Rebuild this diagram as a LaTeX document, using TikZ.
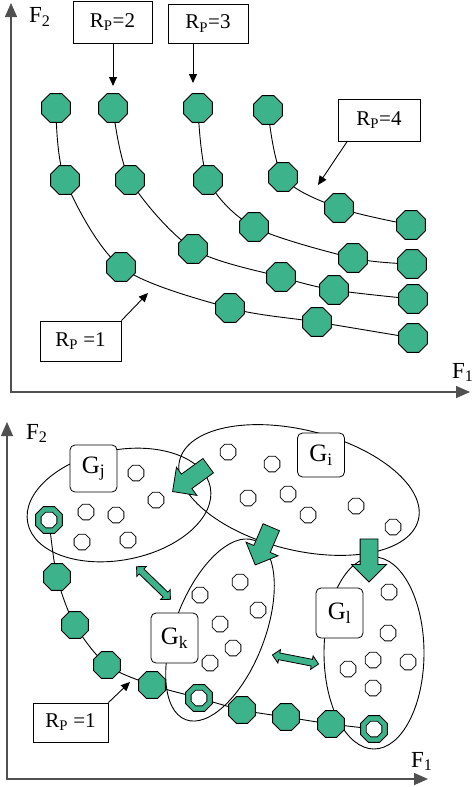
\documentclass[tikz,border=0pt]{standalone}
\usepackage{fontspec}
\setmainfont{Liberation Serif}
\usetikzlibrary{shapes.geometric, shapes.arrows, arrows.meta, backgrounds}
\definecolor{octgreen}{RGB}{60, 179, 139}
\definecolor{axisgray}{RGB}{80, 80, 80}

\tikzset{
  octnode/.style={regular polygon, regular polygon sides=8, draw=black, fill=octgreen, line width=0.9pt, minimum size=31pt, inner sep=0pt},
  holenode/.style={regular polygon, regular polygon sides=8, draw=black, fill=white, line width=0.8pt, minimum size=17pt, inner sep=0pt},
  rpbox/.style={draw, line width=0.9pt, fill=white, inner sep=0pt, font=\fontsize{21}{24}\selectfont},
  gbox/.style={draw, line width=0.8pt, fill=white, rounded corners=5pt, minimum width=47pt, minimum height=47pt, inner sep=0pt, font=\fontsize{25}{29}\selectfont},
  axislabel/.style={anchor=base west, inner sep=0pt, font=\fontsize{23}{27}\selectfont},
  axis/.style={draw=axisgray, line width=1.4pt, line join=miter, {Triangle[length=14pt,width=12pt]}-{Triangle[length=14pt,width=12pt]}},
  pointer/.style={line width=0.9pt, -{Triangle[length=9pt,width=8pt]}},
  front/.style={line width=0.9pt},
  group/.style={ellipse, draw, line width=0.9pt, inner sep=0pt},
  blockarrow/.style={single arrow, draw, fill=octgreen, line width=0.8pt, inner xsep=0pt, inner ysep=8.5pt, single arrow head extend=8.5pt},
  swaparrow/.style={double arrow, draw, fill=octgreen, line width=0.8pt, minimum height=47pt, inner xsep=0pt, inner ysep=3pt, double arrow head extend=3.5pt}
}

\begin{document}
\begin{tikzpicture}[x=1pt, y=-1pt]
  \useasboundingbox (0,0) rectangle (474,787);

  % Top panel: axes
  \coordinate (o1) at (11,392);
  \coordinate (y1) at (11,3);
  \coordinate (x1) at (470,392);
  \draw[axis] (y1) -- (o1) -- (x1);
  \node[axislabel] (f2top) at (29,23) {F\textsubscript{2}};
  \node[axislabel] (f1top) at (452,378) {F\textsubscript{1}};

  % Top panel: fronts
  \foreach \n/\x/\y in {a1/56/108, a2/65/180, a3/121/267, a4/230/308, a5/317/322, a6/413/338,
                        b1/113/108, b2/130/180, b3/193/249, b4/281/277, b5/334/290, b6/413/299,
                        c1/198/108, c2/208/180, c3/254/227, c4/353/258, c5/412/264,
                        d1/268/110, d2/283/177, d3/339/208, d4/411/225}
    \node[octnode] (\n) at (\x,\y) {};

  \begin{pgfonlayer}{background}
    \draw[front] plot[smooth] coordinates {(a1) (a2) (a3) (a4) (a5) (a6)};
    \draw[front] plot[smooth] coordinates {(b1) (b2) (b3) (b4) (b5) (b6)};
    \draw[front] plot[smooth] coordinates {(c1) (c2) (c3) (c4) (c5)};
    \draw[front] plot[smooth] coordinates {(d1) (d2) (d3) (d4)};
  \end{pgfonlayer}

  % Top panel: front labels
  \node[rpbox, minimum width=79pt, minimum height=42pt] (rp2) at (112.5,22) {R\textsubscript{P}=2};
  \node[rpbox, minimum width=80pt, minimum height=39pt] (rp3) at (208,23.5) {R\textsubscript{P}=3};
  \node[rpbox, minimum width=82pt, minimum height=42pt] (rp4) at (379,120) {R\textsubscript{P}=4};
  \node[rpbox, minimum width=81pt, minimum height=40pt] (rp1) at (80.5,341) {R\textsubscript{P} =1};
  \coordinate (rp2tip) at (113,86);
  \coordinate (rp3tip) at (193,83);
  \coordinate (rp4tip) at (318,185);
  \coordinate (rp1tip) at (148,293);
  \draw[pointer] (rp2tip |- rp2.south) -- (rp2tip);
  \draw[pointer] (rp3tip |- rp3.south) -- (rp3tip);
  \draw[pointer] (rp4.214) -- (rp4tip);
  \draw[pointer] (rp1.north east) -- (rp1tip);

  % Bottom panel: axes
  \coordinate (o2) at (7,779);
  \coordinate (y2) at (7,422);
  \coordinate (x2) at (428,779);
  \draw[axis] (y2) -- (o2) -- (x2);
  \node[axislabel] (f2bot) at (26,439) {F\textsubscript{2}};
  \node[axislabel] (f1bot) at (411,767) {F\textsubscript{1}};

  % Bottom panel: groups
  \node[group, minimum width=186pt, minimum height=110pt, rotate=11] (gj) at (119,505) {};
  \node[group, minimum width=246pt, minimum height=120pt, rotate=-14] (gi) at (299,490) {};
  \node[group, minimum width=192pt, minimum height=90pt, rotate=69] (gk) at (220,630) {};
  \node[group, minimum width=100pt, minimum height=192pt] (gl) at (374,653) {};

  \foreach \n/\x/\y in {j1/136/473, j2/156/500, j3/86/512, j4/116/515, j5/82/542, j6/128/540,
                        i1/228/452, i2/272/464, i3/248/498, i4/288/494, i5/308/515, i6/356/506, i7/393/527,
                        k1/240/582, k2/200/595, k3/258/610, k4/220/624, k5/233/648, k6/210/663,
                        l1/389/592, l2/388/633, l3/373/660, l4/408/662, l5/348/669, l6/373/688}
    \node[holenode] (\n) at (\x,\y) {};

  % Bottom panel: first front
  \foreach \n/\x/\y in {h1/49/520, h2/57/577, h3/75/625, h4/107/665, h5/152/685,
                        h6/199/698, h7/242/710, h8/286/717, h9/331/724, h10/374/729}
    \node[octnode, minimum size=29pt] (\n) at (\x,\y) {};
  \foreach \n in {h1, h6, h10}
    \node[holenode] (\n in) at (\n) {};

  \begin{pgfonlayer}{background}
    \draw[front] plot[smooth] coordinates {(h1) (h2) (h3) (h4) (h5) (h6) (h7) (h8) (h9) (h10)};
  \end{pgfonlayer}

  \node[gbox] (lj) at (93.5,468.5) {G\textsubscript{j}};
  \node[gbox, minimum height=44pt] (li) at (321,455) {G\textsubscript{i}};
  \node[gbox, minimum height=50pt] (lk) at (174.5,638) {G\textsubscript{k}};
  \node[gbox, minimum height=50pt] (ll) at (339.5,613) {G\textsubscript{l}};

  \node[rpbox, minimum width=75pt, minimum height=39pt] (rq1) at (70.5,722.5) {R\textsubscript{P} =1};
  \coordinate (rq1tip) at (130,682);
  \draw[pointer] (rq1.north east) -- (rq1tip);

  % Bottom panel: moves between groups
  \node[blockarrow, minimum height=44pt, rotate=216] (mj) at (194,476) {};
  \node[blockarrow, minimum height=41pt, rotate=247] (mk) at (265,542) {};
  \node[blockarrow, minimum height=43pt, rotate=270] (ml) at (369,556) {};
  \node[swaparrow, rotate=-44] (sjk) at (153.5,583) {};
  \node[swaparrow, rotate=-11] (skl) at (295.5,659.5) {};
\end{tikzpicture}
\end{document}
